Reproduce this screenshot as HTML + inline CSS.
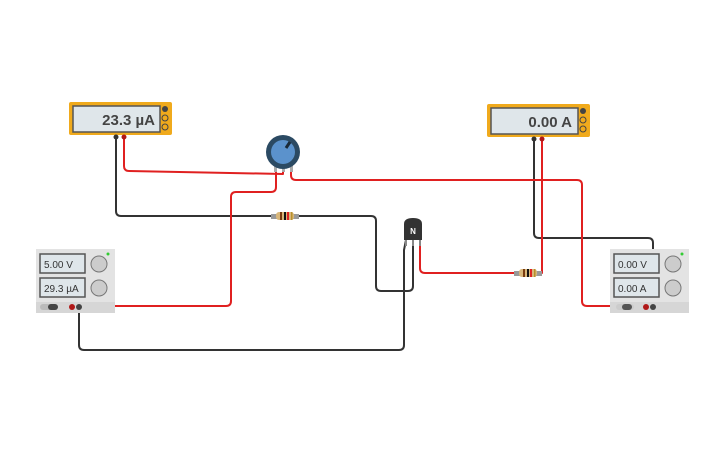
<!DOCTYPE html>
<html><head><style>
body{margin:0;background:#fff;width:725px;height:453px;overflow:hidden}
svg{display:block}
text{font-family:"Liberation Sans",sans-serif}
</style></head><body>
<svg width="725" height="453" viewBox="0 0 725 453" xmlns="http://www.w3.org/2000/svg">
<g fill="none" stroke-width="2" stroke-linejoin="round">
<path d="M116 137 V211 Q116 216 121 216 H371 Q376 216 376 221 V286 Q376 291 381 291 H408 Q413 291 413 286 V240" stroke="#333"/>
<path d="M79 307 V345 Q79 350 84 350 H399 Q404 350 404 345 V250 L406 240" stroke="#333"/>
<path d="M534 139 V233 Q534 238 539 238 H648 Q653 238 653 243 V307" stroke="#333"/>
<path d="M124 137 V166 Q124 171 129 171 L283 174 V168" stroke="#e02020"/>
<path d="M276 168 V187 Q276 192 271 192 H236 Q231 192 231 197 V301 Q231 306 226 306 H72" stroke="#e02020"/>
<path d="M291 168 V175 Q291 180 296 180 H577 Q582 180 582 185 V301 Q582 306 587 306 H646" stroke="#e02020"/>
<path d="M542 139 V273 H425 Q420 273 420 268 V240" stroke="#e02020"/>
</g>
<g>
<rect x="271" y="214" width="28" height="5" fill="#999"/>
<rect x="276" y="212" width="18" height="8" rx="3" fill="#d9b77a"/>
<rect x="280" y="212" width="2" height="8" fill="#7a3b10"/><rect x="284" y="212" width="2" height="8" fill="#111"/><rect x="287" y="212" width="2" height="8" fill="#d22"/><rect x="291" y="212" width="1.5" height="8" fill="#b8902a"/>
<rect x="514" y="271" width="28" height="5" fill="#999"/>
<rect x="519" y="269" width="18" height="8" rx="3" fill="#d9b77a"/>
<rect x="523" y="269" width="2" height="8" fill="#7a3b10"/><rect x="527" y="269" width="2" height="8" fill="#111"/><rect x="530" y="269" width="2" height="8" fill="#d22"/><rect x="534" y="269" width="1.5" height="8" fill="#b8902a"/>
</g>
<rect x="274" y="164" width="3" height="8" fill="#aaa"/><rect x="282" y="164" width="3" height="8" fill="#aaa"/><rect x="290" y="164" width="3" height="8" fill="#aaa"/>
<circle cx="283" cy="152" r="17" fill="#2b4a63"/>
<circle cx="283" cy="152" r="12" fill="#5b92cc"/>
<line x1="286" y1="148" x2="290" y2="142" stroke="#1a2a38" stroke-width="3"/>
<path d="M404 240 V224 Q404 218 413 218 Q422 218 422 224 V240 Z" fill="#333"/>
<text x="413" y="234" font-size="8" font-weight="bold" fill="#fff" text-anchor="middle">N</text>
<rect x="405" y="240" width="2" height="6" fill="#888"/><rect x="412" y="240" width="2" height="6" fill="#888"/><rect x="419" y="240" width="2" height="6" fill="#888"/>
<rect x="69" y="102" width="103" height="33" rx="2" fill="#f0aa1c"/>
<rect x="73" y="106" width="87" height="26" fill="#dfe6ea" stroke="#555" stroke-width="1.5"/>
<text x="155" y="125" font-size="15" font-weight="bold" fill="#444" text-anchor="end">23.3 µA</text>
<circle cx="165" cy="109" r="3" fill="#444"/><circle cx="165" cy="118" r="3" fill="none" stroke="#444"/><circle cx="165" cy="127" r="3" fill="none" stroke="#444"/>
<circle cx="116" cy="137" r="2.5" fill="#333"/><circle cx="124" cy="137" r="2.5" fill="#b01818"/>
<rect x="487" y="104" width="103" height="33" rx="2" fill="#f0aa1c"/>
<rect x="491" y="108" width="87" height="26" fill="#dfe6ea" stroke="#555" stroke-width="1.5"/>
<text x="572" y="127" font-size="15" font-weight="bold" fill="#444" text-anchor="end">0.00 A</text>
<circle cx="583" cy="111" r="3" fill="#444"/><circle cx="583" cy="120" r="3" fill="none" stroke="#444"/><circle cx="583" cy="129" r="3" fill="none" stroke="#444"/>
<circle cx="534" cy="139" r="2.5" fill="#333"/><circle cx="542" cy="139" r="2.5" fill="#b01818"/>
<rect x="36" y="249" width="79" height="64" fill="#e3e3e3"/>
<rect x="36" y="302" width="79" height="11" fill="#d6d6d6"/>
<rect x="40" y="254" width="45" height="19" fill="#dfe6ea" stroke="#555" stroke-width="1.5"/>
<rect x="40" y="278" width="45" height="19" fill="#dfe6ea" stroke="#555" stroke-width="1.5"/>
<text x="44" y="268" font-size="10" fill="#333">5.00 V</text>
<text x="44" y="292" font-size="10" fill="#333">29.3 µA</text>
<circle cx="99" cy="264" r="8" fill="#ccc" stroke="#777"/><circle cx="99" cy="288" r="8" fill="#ccc" stroke="#777"/>
<circle cx="108" cy="254" r="1.5" fill="#3c3"/>
<rect x="40" y="304" width="18" height="6" rx="3" fill="#bbb"/><rect x="48" y="304" width="10" height="6" rx="3" fill="#444"/>
<circle cx="72" cy="307" r="3" fill="#b01818"/><circle cx="79" cy="307" r="3" fill="#444"/>
<rect x="610" y="249" width="79" height="64" fill="#e3e3e3"/>
<rect x="610" y="302" width="79" height="11" fill="#d6d6d6"/>
<rect x="614" y="254" width="45" height="19" fill="#dfe6ea" stroke="#555" stroke-width="1.5"/>
<rect x="614" y="278" width="45" height="19" fill="#dfe6ea" stroke="#555" stroke-width="1.5"/>
<text x="618" y="268" font-size="10" fill="#333">0.00 V</text>
<text x="618" y="292" font-size="10" fill="#333">0.00 A</text>
<circle cx="673" cy="264" r="8" fill="#ccc" stroke="#777"/><circle cx="673" cy="288" r="8" fill="#ccc" stroke="#777"/>
<circle cx="682" cy="254" r="1.5" fill="#3c3"/>
<rect x="616" y="304" width="18" height="6" rx="3" fill="#ccc"/><rect x="622" y="304" width="10" height="6" rx="3" fill="#555"/>
<circle cx="646" cy="307" r="3" fill="#b01818"/><circle cx="653" cy="307" r="3" fill="#444"/>
</svg>
</body></html>
